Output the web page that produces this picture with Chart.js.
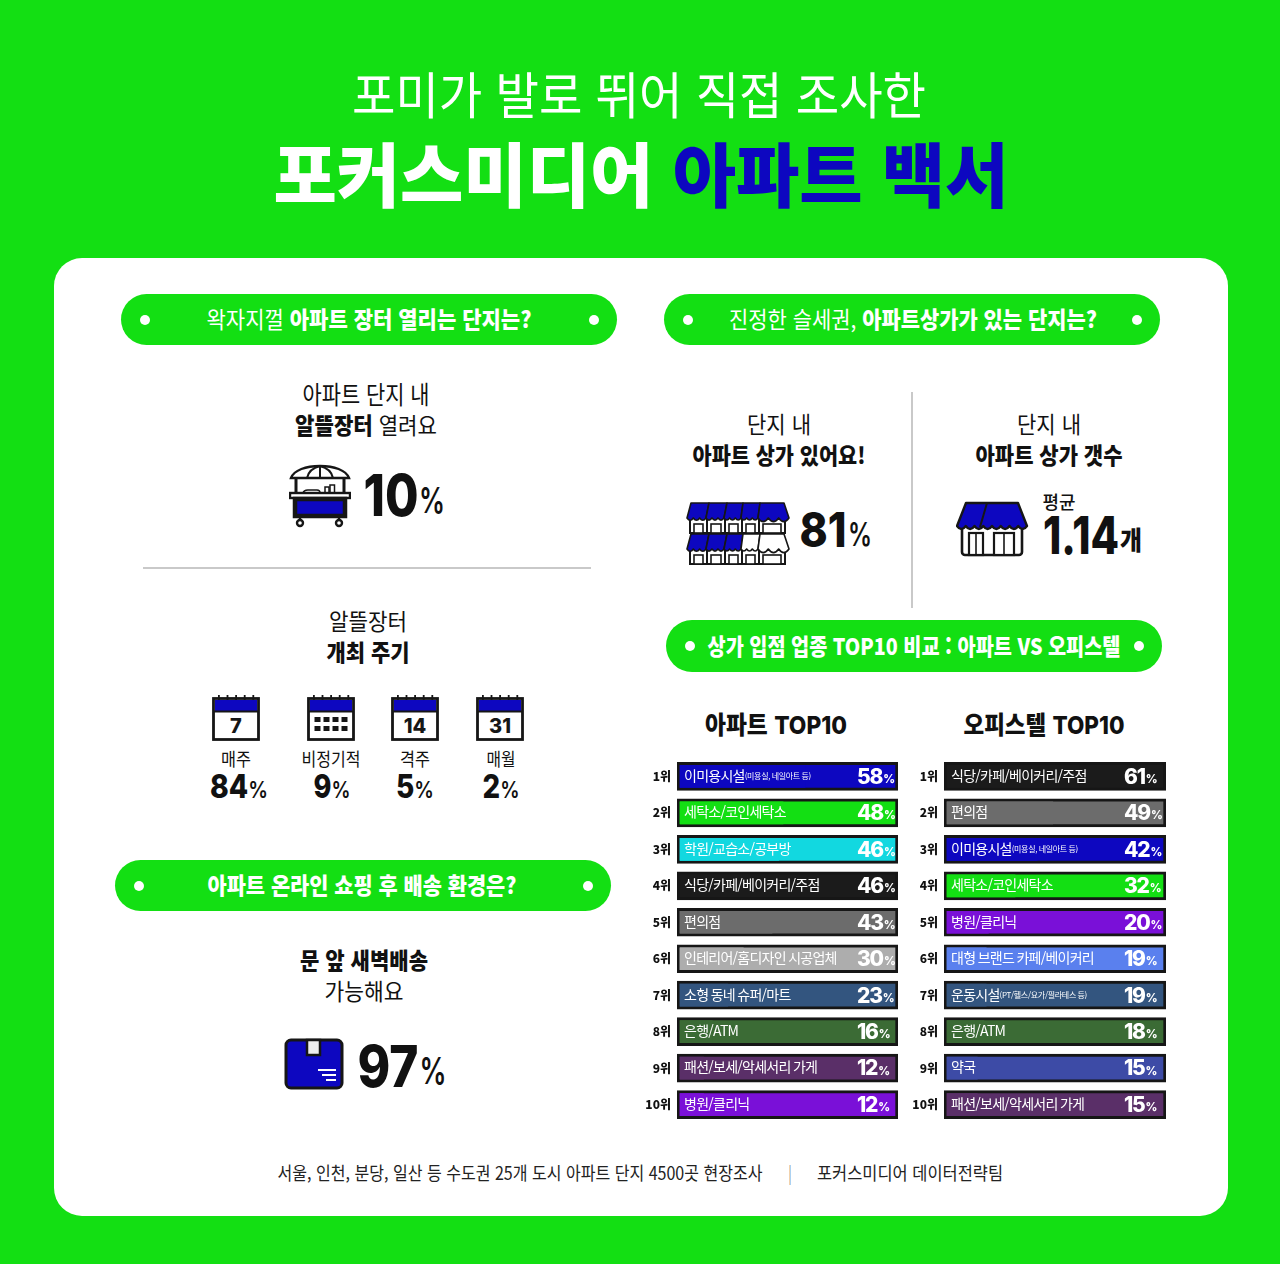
<!DOCTYPE html>
<html lang="ko">
<head>
<meta charset="utf-8">
<title>포커스미디어 아파트 백서</title>
<script src="https://cdn.jsdelivr.net/npm/chart.js@4"></script>
<style>
  html, body { margin: 0; padding: 0; }
  body { width: 1280px; height: 1264px; background: #13df13; position: relative; overflow: hidden;
         font-family: "Noto Sans CJK KR", "Noto Sans", sans-serif; color: #111; }
  .card { position: absolute; left: 54px; top: 258px; width: 1174px; height: 958px; background: #fff; border-radius: 28px; }
  .pill { position: absolute; width: 496px; height: 51px; background: #13df13; border-radius: 26px; }
  .pill i { position: absolute; top: 21px; width: 10px; height: 10px; border-radius: 50%; background: #fff; }
  .pill i:first-child { left: 19px; }
  .pill i:last-child { right: 18px; }
  .line { position: absolute; background: #c9c9c9; }
  .t { position: absolute; white-space: nowrap; line-height: 1; transform: translate(-50%, -50%); }
  .b { font-weight: 800; }
  .r { font-weight: 400; }
  .latin { font-family: Inter, sans-serif; font-weight: 800; }
  svg, canvas { position: absolute; }
</style>
</head>
<body>
<div class="card"></div>
<div class="pill" style="left:121px;top:294px"><i></i><i></i></div>
<div class="pill" style="left:664px;top:294px"><i></i><i></i></div>
<div class="pill" style="left:666px;top:620px;height:52px"><i></i><i></i></div>
<div class="pill" style="left:115px;top:860px"><i></i><i></i></div>
<div class="line" style="left:143px;top:567px;width:448px;height:2px"></div>
<div class="line" style="left:911px;top:392px;width:2px;height:216px"></div>

<div id="texts"></div>
<div id="icons"></div>

<canvas id="aptChart" width="258" height="391" style="left:640px;top:745px"></canvas>
<canvas id="officeChart" width="259" height="391" style="left:907px;top:745px"></canvas>

<script>
// Apartment TOP10
const aptCategories = ['이미용시설(미용실, 네일아트 등)', '세탁소/코인세탁소', '학원/교습소/공부방', '식당/카페/베이커리/주점', '편의점', '인테리어/홈디자인 시공업체', '소형 동네 슈퍼/마트', '은행/ATM', '패션/보세/악세서리 가게', '병원/클리닉'];
const aptValues = [58, 48, 46, 46, 43, 30, 23, 16, 12, 12];
const aptColors = ['#0d07c0', '#13df13', '#12d8e0', '#1b1b1b', '#6c6c6c', '#adadad', '#33557f', '#3b6b35', '#5a2f68', '#7a10d8'];

// Officetel TOP10
const officeCategories = ['식당/카페/베이커리/주점', '편의점', '이미용시설(미용실, 네일아트 등)', '세탁소/코인세탁소', '병원/클리닉', '대형 브랜드 카페/베이커리', '운동시설(PT/헬스/요가/필라테스 등)', '은행/ATM', '약국', '패션/보세/악세서리 가게'];
const officeValues = [61, 49, 42, 32, 20, 19, 19, 18, 15, 15];
const officeColors = ['#1b1b1b', '#6c6c6c', '#0d07c0', '#13df13', '#7a10d8', '#5a80ee', '#33557f', '#3b6b35', '#3d4ba6', '#5a2f68'];

// every row sits on a full width plate in the original
const trackSpan = [100, 100, 100, 100, 100, 100, 100, 100, 100, 100];

// Headline stats
const cycleLabels = ['매주', '비정기적', '격주', '매월'];
const cycleValues = [84, 9, 5, 2];
const cycleDays = ['7', '', '14', '31'];
const marketShare = 10;
const shopShare = 81;
const shopAverage = '1.14';
const dawnDelivery = 97;

const BLUE = '#0d07c0';
const INK = '#161616';

// text helper: cx, cy = centre, w = width it has to fill in the reference
function put(html, cx, cy, w, size, extra) {
    const el = document.createElement('div');
    el.className = 't';
    el.innerHTML = html;
    el.style.cssText = `left:${cx}px;top:${cy}px;font-size:${size}px;${extra || ''}`;
    document.getElementById('texts').appendChild(el);
    const natural = el.getBoundingClientRect().width;
    el.style.transform = `translate(-50%, -50%) scaleX(${w / natural})`;
}

const NUM = 'font-family:Inter;font-weight:800';
const PCT = 'font-family:Inter;font-weight:600';

put('포미가 발로 뛰어 직접 조사한', 639, 92, 574, 50, 'color:#fff;font-weight:400');
put(`<span style="color:#fff">포커스미디어</span> <span style="color:${BLUE}">아파트 백서</span>`, 640.5, 172, 735, 70, 'font-weight:900');

put('왁자지껄 <span class="b">아파트 장터 열리는 단지는?</span>', 368.5, 318, 325, 23, 'color:#fff;font-weight:400');
put('진정한 슬세권, <span class="b">아파트상가가 있는 단지는?</span>', 913, 318, 368, 23, 'color:#fff;font-weight:400');
put('상가 입점 업종 TOP10 비교 : 아파트 VS 오피스텔', 913.5, 645, 413, 23, 'color:#fff;font-weight:800');
put('아파트 온라인 쇼핑 후 배송 환경은?', 361.5, 884, 309, 23, 'color:#fff;font-weight:800');

put('아파트 단지 내', 366, 393, 127, 25, 'font-weight:400');
put('<span class="b">알뜰장터</span> <span class="r">열려요</span>', 366, 424, 142, 23);
put(marketShare, 390.5, 495, 55, 58, NUM);
put('%', 432, 500, 26, 36, PCT);

put('알뜰장터', 368, 620, 78, 23, 'font-weight:400');
put('개최 주기', 368, 651, 83, 23, 'font-weight:800');

const cycleCentres = [236, 331, 415, 501];
const cycleValueCentres = [239, 332, 415, 501];
const cycleValueWidths = [58, 37, 38, 37];
const cycleLabelWidths = [30, 59, 30, 29];
cycleLabels.forEach((label, i) => {
    put(label, cycleCentres[i], 758, cycleLabelWidths[i], 18, 'font-weight:400');
    put(`${cycleValues[i]}<span style="font-size:23px;font-weight:600">%</span>`, cycleValueCentres[i], 786, cycleValueWidths[i], 33, NUM);
});

put('문 앞 새벽배송', 364, 959, 128, 23, 'font-weight:800');
put('가능해요', 364, 990, 79, 23, 'font-weight:400');
put(dawnDelivery, 388, 1066, 61, 58, NUM);
put('%', 433, 1070, 27, 37, PCT);

put('단지 내', 779, 423, 64, 23, 'font-weight:400');
put('아파트 상가 있어요!', 779, 454, 173, 23, 'font-weight:800');
put(shopShare, 823, 530, 47, 48, NUM);
put('%', 860, 535, 24, 32, PCT);

put('단지 내', 1049, 423, 64, 23, 'font-weight:400');
put('아파트 상가 갯수', 1049, 454, 147, 23, 'font-weight:800');
put('평균', 1059, 501, 33, 18, 'font-weight:500');
put(shopAverage, 1080.5, 536, 76, 52, NUM);
put('개', 1131, 539, 22, 26, 'font-weight:800');

put('아파트 <span class="latin">TOP10</span>', 776, 724, 142, 25, 'font-weight:800');
put('오피스텔 <span class="latin">TOP10</span>', 1044, 724, 161, 25, 'font-weight:800');

put('서울, 인천, 분당, 일산 등 수도권 25개 도시 아파트 단지 4500곳 현장조사', 519.5, 1172, 485, 18, 'font-weight:400;color:#222');
put('|', 790, 1172, 2, 18, 'font-weight:400;color:#333');
put('포커스미디어 데이터전략팀', 910, 1172, 186, 18, 'font-weight:400;color:#222');

// Icons
function svg(x, y, w, h, inner) {
    return `<svg style="left:${x}px;top:${y}px" width="${w}" height="${h}" viewBox="0 0 ${w} ${h}">${inner}</svg>`;
}

function stallIcon() {
    return svg(289, 464, 62, 64, `<g transform="translate(1,1)" stroke="${INK}" stroke-width="2.4" fill="#fff">
        <path d="M1 13 C4 5 16 1 30 1 C44 1 56 5 59 13 Z"/>
        <path d="M30 1 C22 3 18 8 17 13 M30 1 C38 3 42 8 43 13 M30 1 V13" fill="none" stroke-width="2"/>
        <path d="M6 13 V28 M54 13 V28" fill="none" stroke-width="3"/>
        <path d="M13 28 C14 24 17 25 20 25 H27 C29 25 30 26 30 28 Z" stroke-width="1.5"/>
        <rect x="35" y="22" width="4" height="6" stroke-width="1.5"/><rect x="40" y="20" width="4.5" height="8" stroke-width="1.5"/>
        <rect x="0" y="28" width="60" height="5"/>
        <rect x="5" y="34" width="50" height="17" fill="${BLUE}" stroke-width="4.5"/>
        <path d="M10 51 V55 M49 51 V55" fill="none"/>
        <circle cx="10" cy="58" r="3"/><circle cx="49" cy="58" r="3"/>
    </g>`);
}

function calendarIcon(x, day) {
    let inner = `<rect x="1.5" y="3.5" width="45" height="41" fill="#fff" stroke="${INK}" stroke-width="2.8"/>
        <rect x="3" y="5" width="42" height="11" fill="${BLUE}"/>
        <path d="M1 16.5 H47" stroke="${INK}" stroke-width="2"/>`;
    for (let i = 0; i < 5; i++) {
        inner += `<rect x="${6 + i * 8.6}" y="0" width="1.8" height="5" fill="${INK}"/>`;
    }
    if (day) {
        inner += `<text x="24" y="37.5" text-anchor="middle" font-family="Inter" font-weight="800" font-size="20" fill="${INK}">${day}</text>`;
    } else {
        for (let r = 0; r < 2; r++) {
            for (let c = 0; c < 4; c++) {
                inner += `<rect x="${7.5 + c * 9}" y="${22 + r * 9}" width="6" height="5" fill="${INK}"/>`;
            }
        }
    }
    return svg(x, 695, 48, 46, inner);
}

// roof edge with the little awning scallops along the bottom
function awning(topL, topR, botL, botR, top, bot, bumps) {
    const step = (botR - botL) / bumps;
    let d = `M${topL} ${top} H${topR} L${botR} ${bot}`;
    for (let i = 0; i < bumps; i++) {
        d += ` q${-step / 2} ${step * 0.7} ${-step} 0`;
    }
    return d + ' Z';
}

function shopRow(y, blueCount) {
    const tops = [6, 24, 42, 58, 75, 99];
    const bots = [2, 21, 39, 56, 73, 104];
    const bodies = [5, 22, 40, 57, 74, 100];
    let out = '';
    for (let i = 0; i < 5; i++) {
        const bx = bodies[i];
        const bw = bodies[i + 1] - bx;
        const fill = i < blueCount ? BLUE : '#fff';
        out += `<rect x="${bx}" y="${y + 15}" width="${bw}" height="15" fill="#fff" stroke="${INK}" stroke-width="2"/>`;
        out += `<rect x="${bx + 4}" y="${y + 21}" width="${bw - 8}" height="9" fill="#fff" stroke="${INK}" stroke-width="1.6"/>`;
        out += `<path d="${awning(tops[i], tops[i + 1], bots[i], bots[i + 1], y, y + 15, 3)}" fill="${fill}" stroke="${INK}" stroke-width="1.6" stroke-linejoin="round"/>`;
    }
    return out;
}

function storeIcon() {
    return svg(956, 501, 73, 57, `<g stroke="${INK}" fill="#fff">
        <rect x="6" y="25" width="60" height="29" rx="3" stroke-width="2.6"/>
        <rect x="13" y="32" width="14" height="22" stroke-width="2.2"/><path d="M20 32 V54" stroke-width="1.6"/>
        <rect x="38" y="32" width="20" height="22" stroke-width="2.2"/><path d="M48 32 V54" stroke-width="1.6"/>
        <path d="${awning(10, 62, 1, 71, 2, 25, 8)}" fill="${BLUE}" stroke-width="2.4" stroke-linejoin="round"/>
        <path d="M31 2 L24 26" stroke-width="2"/>
    </g>`);
}

function boxIcon() {
    return svg(284, 1038, 60, 52, `<rect x="2" y="2" width="56" height="48" rx="5" fill="${BLUE}" stroke="${INK}" stroke-width="3"/>
        <rect x="23" y="2" width="13" height="15" fill="#eee" stroke="${INK}" stroke-width="2.5"/>
        <path d="M34 32 H52 M38 37 H52 M42 42 H52" stroke="#fff" stroke-width="2"/>`);
}

let iconHtml = stallIcon() + boxIcon() + storeIcon();
iconHtml += calendarIcon(212, cycleDays[0]) + calendarIcon(307, cycleDays[1]) + calendarIcon(391, cycleDays[2]) + calendarIcon(476, cycleDays[3]);
iconHtml += svg(685, 501, 106, 66, shopRow(2, 5) + shopRow(33, 3));
document.getElementById('icons').innerHTML = iconHtml;

// Labels inside the plates, drawn after the bars
const rowLabels = {
    id: 'rowLabels',
    afterDatasetsDraw(chart) {
        const ctx = chart.ctx;
        const yScale = chart.scales.y;
        const left = chart.chartArea.left;
        const values = chart.data.datasets[0].data;
        ctx.save();
        ctx.fillStyle = '#fff';
        ctx.textBaseline = 'middle';
        chart.data.labels.forEach((label, i) => {
            const y = yScale.getPixelForValue(i);
            const parts = label.split('(');
            ctx.letterSpacing = '-0.75px';
            ctx.font = '400 14px "Noto Sans CJK KR"';
            ctx.fillText(parts[0], left + 7, y - 1);
            if (parts[1]) {
                const noteX = left + 7 + ctx.measureText(parts[0]).width;
                ctx.letterSpacing = '-0.3px';
                ctx.font = '400 8px "Noto Sans CJK KR"';
                ctx.fillText('(' + parts[1], noteX, y);
            }
            const numX = left + 180;
            ctx.letterSpacing = '-1.2px';
            ctx.font = '800 21px Inter';
            ctx.fillText(values[i], numX, y + 1);
            const numW = ctx.measureText(values[i]).width;
            ctx.letterSpacing = '0px';
            ctx.font = '800 11.5px Inter';
            ctx.fillText('%', numX + numW + 1, y + 3);
        });
        ctx.restore();
    }
};

function makeTopChart(canvasId, categories, values, colors) {
    return new Chart(document.getElementById(canvasId), {
        type: 'bar',
        data: {
            labels: categories,
            datasets: [
                {
                    label: '입점 비율',
                    data: values,
                    backgroundColor: colors,
                    borderWidth: 0,
                    base: 1.4,
                    barThickness: 22,
                    grouped: false,
                    order: 1
                },
                {
                    label: '전체',
                    data: trackSpan,
                    backgroundColor: colors,
                    borderColor: INK,
                    borderWidth: 3,
                    borderSkipped: false,
                    barThickness: 28,
                    grouped: false,
                    order: 2
                }
            ]
        },
        options: {
            indexAxis: 'y',
            responsive: false,
            animation: false,
            layout: { padding: 0 },
            plugins: { legend: { display: false }, tooltip: { enabled: false } },
            scales: {
                x: { display: false, min: 0, max: 100 },
                y: {
                    grid: { display: false, tickLength: 0 },
                    border: { display: false },
                    afterFit(scale) { scale.width = 37; },
                    ticks: {
                        padding: 6,
                        color: '#111',
                        autoSkip: false,
                        font: { size: 12, weight: '900', family: '"Noto Sans CJK KR"' },
                        callback: (value, index) => `${index + 1}위`
                    }
                }
            }
        },
        plugins: [rowLabels]
    });
}

makeTopChart('aptChart', aptCategories, aptValues, aptColors);
makeTopChart('officeChart', officeCategories, officeValues, officeColors);
</script>
</body>
</html>
